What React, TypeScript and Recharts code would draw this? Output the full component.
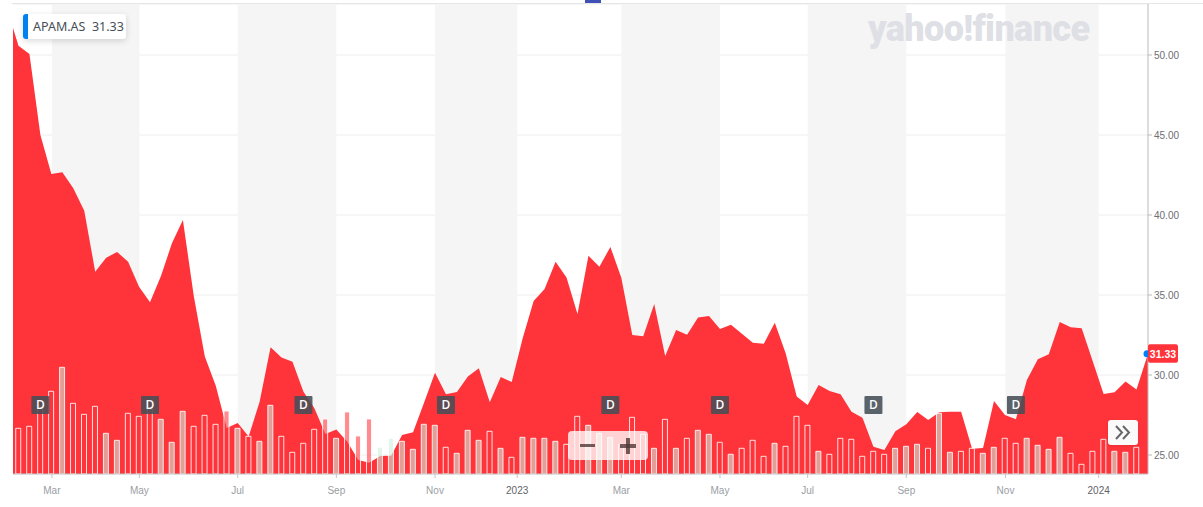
import { Area, Bar, CartesianGrid, Cell, ComposedChart, ReferenceArea, ReferenceDot, XAxis, YAxis } from 'recharts'

// weekly close, first value belongs to the partly cut off week at the left edge
const leadingPrice = 51.69
const prices = [
  50.58, 50.06, 45.0, 42.56, 42.67, 41.67, 40.27, 36.46, 37.33, 37.69, 37.08, 35.52, 34.54, 36.19, 38.23, 39.69,
  34.9, 31.15, 29.33, 26.69, 27.0, 26.15, 28.33, 31.73, 31.1, 30.83, 28.96, 27.92, 26.31, 26.6, 25.83, 24.69,
  24.52, 24.94, 24.96, 26.25, 26.42, 28.27, 30.14, 28.79, 28.94, 29.9, 30.42, 28.29, 29.88, 29.56, 32.29, 34.63,
  35.38, 37.08, 36.1, 33.81, 37.46, 36.77, 38.0, 36.08, 32.5, 32.42, 34.44, 31.19, 32.81, 32.52, 33.6, 33.69,
  32.88, 33.14, 32.58, 32.02, 31.96, 33.27, 31.35, 28.65, 28.13, 29.38, 29.0, 28.79, 27.71, 27.33, 25.52, 25.31,
  26.48, 26.92, 27.69, 27.19, 27.67, 27.71, 27.71, 25.39, 25.44, 28.38, 27.5, 27.23, 29.69, 30.98, 31.29, 33.31,
  32.98, 32.92, 30.88, 28.81, 28.92, 29.6, 29.1,
]
const lastPrice = 31.33
const lastWeek = 103.05

// thousands of shares
const volumes = [
  457, 477, 680, 827, 1067, 707, 597, 677, 407, 337, 607, 577, 650, 547, 317, 627,
  477, 587, 497, 630, 457, 377, 327, 687, 377, 217, 307, 447, 550, 357, 620, 380,
  550, 267, 357, 327, 247, 497, 487, 267, 207, 437, 337, 427, 257, 167, 367, 357,
  357, 327, 297, 577, 487, 407, 367, 297, 567, 397, 257, 547, 257, 357, 437, 397,
  317, 197, 257, 337, 177, 307, 277, 577, 487, 227, 197, 357, 347, 177, 227, 197,
  257, 277, 297, 257, 607, 217, 227, 257, 207, 267, 357, 307, 357, 287, 247, 367,
  207, 97, 227, 347, 227, 217, 267,
]
const upWeeks = [
  4, 8, 9, 13, 14, 15, 20, 22, 23, 29, 33, 34, 35, 36, 37, 38, 40, 41, 42, 44, 46, 47, 48, 49, 52, 53, 54, 58, 60,
  62, 63, 65, 69, 73, 80, 81, 82, 84, 85, 88, 89, 92, 93, 94, 95, 100, 101,
]

const xTicks = [3.05, 11.03, 20, 29, 38, 45.5, 55, 64, 72, 81, 90.05, 98.55]
const xLabels = ['Mar', 'May', 'Jul', 'Sep', 'Nov', '2023', 'Mar', 'May', 'Jul', 'Sep', 'Nov', '2024']
const yTicks = [25, 30, 35, 40, 45, 50]
const bands = [
  [3.05, 11.03],
  [20, 29],
  [38, 45.5],
  [55, 64],
  [72, 81],
  [90.05, 98.55],
]
const dividendWeeks = [2, 12, 26, 39, 54, 64, 78, 91]

const rows = [
  { week: -0.5, price: leadingPrice, volume: null as number | null },
  ...prices.map((price, i) => ({ week: i, price, volume: volumes[i] })),
  { week: lastWeek, price: lastPrice, volume: null as number | null },
]

const RED = '#ff333a'
const axisFont = "'Liberation Sans', Arial, sans-serif"

function MonthTick({ x, y, payload }: any) {
  const label = xLabels[xTicks.indexOf(payload.value)]
  const isYear = label.length === 4
  return (
    <text x={x} y={y + 14} textAnchor="middle" fontSize={10} fontFamily={axisFont} fill={isYear ? '#5f6368' : '#9a9ea3'}>
      {label}
    </text>
  )
}

function DividendBadge({ cx, cy }: any) {
  return (
    <g>
      <rect x={cx - 9} y={cy - 9} width={18} height={18} rx={1} fill="#464e56" fillOpacity={0.88} />
      <text x={cx} y={cy + 4.5} textAnchor="middle" fontSize={12} fontWeight={600} fontFamily="'Open Sans', sans-serif" fill="#fff">
        D
      </text>
    </g>
  )
}

function LastPriceTag({ cx, cy }: any) {
  return (
    <g>
      <circle cx={cx - 1} cy={cy} r={3.5} fill="#0081f2" />
      <rect x={cx} y={cy - 9.5} width={30} height={18.5} rx={2} fill={RED} />
      <text x={cx + 15} y={cy + 4} textAnchor="middle" fontSize={10.5} fontWeight={700} fontFamily={axisFont} fill="#fff">
        {lastPrice.toFixed(2)}
      </text>
    </g>
  )
}

export default function App() {
  return (
    <div style={{ position: 'absolute', left: 0, top: 0, width: 1203, height: 507, background: '#fff', overflow: 'hidden' }}>
      <ComposedChart width={1203} height={507} data={rows} margin={{ top: 4, right: 0, bottom: 0, left: 13 }}>
        {bands.map(([x1, x2]) => (
          <ReferenceArea key={x1} x1={x1} x2={x2} fill="#f5f5f5" fillOpacity={1} stroke="none" />
        ))}
        <CartesianGrid vertical={false} stroke="#eeeeee" />
        <XAxis
          dataKey="week"
          type="number"
          domain={[-0.5, lastWeek]}
          ticks={xTicks}
          interval={0}
          height={33}
          tickSize={4}
          stroke="#c4c4c4"
          tick={<MonthTick />}
          allowDataOverflow
        />
        <YAxis
          orientation="right"
          domain={[23.8125, 53.1875]}
          ticks={yTicks}
          interval={0}
          width={55}
          tickSize={4}
          tickMargin={2}
          stroke="#bbbbbb"
          allowDataOverflow
          tickFormatter={(v: number) => v.toFixed(2)}
          tick={{ fontSize: 10, fontFamily: axisFont, fill: '#6b6e72' }}
        />
        <YAxis yAxisId="volume" hide domain={[0, 4700]} />
        <Area dataKey="price" type="linear" stroke="none" fill={RED} fillOpacity={1} dot={false} activeDot={false} isAnimationActive={false} />
        <Bar dataKey="volume" yAxisId="volume" barSize={5} stroke="#ffffff" strokeOpacity={0.85} strokeWidth={1} isAnimationActive={false}>
          {rows.map((row) => (
            <Cell key={row.week} fill={upWeeks.includes(row.week) ? 'rgba(203,238,220,0.58)' : 'rgba(255,51,58,0.57)'} />
          ))}
        </Bar>
        {dividendWeeks.map((week) => (
          <ReferenceDot key={week} x={week} y={28.13} r={9} shape={<DividendBadge />} />
        ))}
        <ReferenceDot x={lastWeek} y={lastPrice} r={4} shape={<LastPriceTag />} />
      </ComposedChart>

      <div style={{ position: 'absolute', left: 12, right: 0, top: 3, height: 1, background: '#e6e6e6' }} />
      <div style={{ position: 'absolute', left: 585, top: 0, width: 16, height: 3, background: '#3f51b5' }} />

      <div
        style={{
          position: 'absolute',
          left: 23,
          top: 14,
          width: 103,
          height: 25,
          boxSizing: 'border-box',
          background: '#fff',
          borderRadius: 3,
          borderLeft: '5px solid #0081f2',
          boxShadow: '0 2px 6px rgba(0,0,0,0.15)',
          color: '#464e56',
          fontFamily: "'Noto Sans', sans-serif",
          fontSize: 12.5,
          lineHeight: '25px',
          paddingLeft: 5,
          whiteSpace: 'pre',
        }}
      >
        {'APAM.AS  ' + lastPrice.toFixed(2)}
      </div>

      <div
        style={{
          position: 'absolute',
          left: 868,
          top: 6,
          width: 240,
          color: '#dee0e5',
          fontFamily: 'Roboto, sans-serif',
          fontWeight: 900,
          fontSize: 36,
          lineHeight: '46px',
          letterSpacing: -0.6,
          whiteSpace: 'pre',
        }}
      >
        yahoo!finance
      </div>

      <div style={{ position: 'absolute', left: 568, top: 431, width: 80, height: 29, borderRadius: 4, background: 'rgba(255,255,255,0.78)' }}>
        <div style={{ position: 'absolute', left: 12, top: 13, width: 15, height: 3, background: 'rgba(80,55,55,0.8)' }} />
        <div style={{ position: 'absolute', left: 52, top: 13, width: 16, height: 3.5, background: 'rgba(80,55,55,0.8)' }} />
        <div style={{ position: 'absolute', left: 58, top: 7, width: 3.5, height: 16, background: 'rgba(80,55,55,0.8)' }} />
      </div>

      <div style={{ position: 'absolute', left: 1108, top: 420, width: 30, height: 25, borderRadius: 3, background: '#fafafa', boxShadow: '0 1px 3px rgba(0,0,0,0.1)' }}>
        <svg width={30} height={25} style={{ display: 'block' }}>
          <polyline points="8,6 14,12.5 8,19" fill="none" stroke="#666" strokeWidth={2} />
          <polyline points="15,6 21,12.5 15,19" fill="none" stroke="#666" strokeWidth={2} />
        </svg>
      </div>
    </div>
  )
}
